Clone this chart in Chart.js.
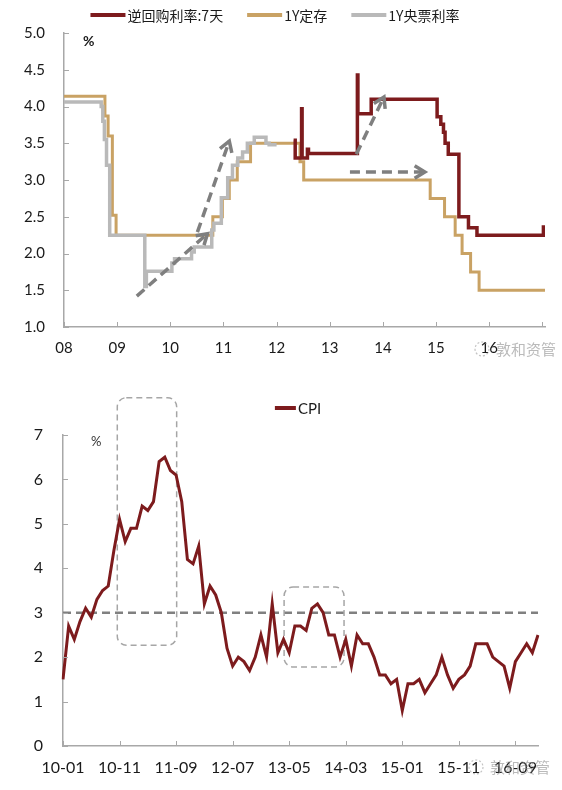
<!DOCTYPE html>
<html>
<head>
<meta charset="utf-8">
<script src="https://cdn.jsdelivr.net/npm/chart.js@4/dist/chart.umd.min.js"></script>
<style>
  html, body { margin: 0; padding: 0; background: #fff; }
  #wrap { position: relative; width: 562px; height: 790px; }
  #rates { position: absolute; left: 0; top: 0; }
  #cpi { position: absolute; left: 0; top: 380px; }
</style>
</head>
<body>
<div id="wrap">
  <canvas id="rates" width="562" height="370"></canvas>
  <canvas id="cpi" width="562" height="410"></canvas>
</div>
<script>
// ---- top chart data (x = decimal year, value holds until next point) ----
const repoX    = [2012.32, 2012.35, 2012.47, 2012.48, 2012.58, 2012.60, 2012.63, 2013.52, 2013.53, 2013.78, 2015.02, 2015.09, 2015.14, 2015.17, 2015.23, 2015.43, 2015.61, 2015.77, 2017.02, 2017.05];
const repoY    = [3.54,    3.30,    3.97,    3.30,    3.42,    3.36,    3.36,    4.43,    3.90,    4.10,    3.86,    3.76,    3.65,    3.50,    3.35,    2.50,    2.35,    2.25,    2.36,    2.36];
const depositX = [2008.00, 2008.77, 2008.83, 2008.91, 2008.98, 2010.80, 2010.98, 2011.11, 2011.26, 2011.51, 2012.44, 2012.51, 2014.89, 2015.16, 2015.36, 2015.49, 2015.65, 2015.81, 2017.05];
const depositY = [4.14,    3.87,    3.60,    2.52,    2.25,    2.50,    2.75,    3.00,    3.25,    3.50,    3.25,    3.00,    2.75,    2.50,    2.25,    2.00,    1.75,    1.50,    1.50];
const billX    = [2008.00, 2008.70, 2008.73, 2008.76, 2008.80, 2008.86, 2009.52, 2009.55, 2010.03, 2010.08, 2010.40, 2010.45, 2010.78, 2010.82, 2010.96, 2011.08, 2011.17, 2011.27, 2011.36, 2011.45, 2011.58, 2011.80, 2011.86, 2012.00];
const billY    = [4.06,    4.00,    3.80,    3.55,    3.20,    2.25,    1.55,    1.76,    1.87,    1.93,    2.02,    2.09,    2.32,    2.41,    2.76,    3.03,    3.20,    3.30,    3.38,    3.50,    3.58,    3.50,    3.48,    3.48];
const yearTicks  = [2008, 2009, 2010, 2011, 2012, 2013, 2014, 2015, 2016, 2017];
const yearLabels = ['08', '09', '10', '11', '12', '13', '14', '15', '16', ''];

// ---- bottom chart data: CPI yoy, 2010-01 .. 2017-01 ----
const cpiValues = [
  1.5, 2.7, 2.4, 2.8, 3.1, 2.9, 3.3, 3.5, 3.6, 4.4, 5.1, 4.6,
  4.9, 4.9, 5.4, 5.3, 5.5, 6.4, 6.5, 6.2, 6.1, 5.5, 4.2, 4.1,
  4.5, 3.2, 3.6, 3.4, 3.0, 2.2, 1.8, 2.0, 1.9, 1.7, 2.0, 2.5,
  2.0, 3.2, 2.1, 2.4, 2.1, 2.7, 2.7, 2.6, 3.1, 3.2, 3.0, 2.5,
  2.5, 2.0, 2.4, 1.8, 2.5, 2.3, 2.3, 2.0, 1.6, 1.6, 1.4, 1.5,
  0.8, 1.4, 1.4, 1.5, 1.2, 1.4, 1.6, 2.0, 1.6, 1.3, 1.5, 1.6,
  1.8, 2.3, 2.3, 2.3, 2.0, 1.9, 1.8, 1.3, 1.9, 2.1, 2.3, 2.1,
  2.5
];
const months = [];
for (let i = 0; i < cpiValues.length; i++) {
  const yy = 10 + Math.floor(i / 12), mm = (i % 12) + 1;
  months.push(yy + '-' + String(mm).padStart(2, '0'));
}
const cpiLine = 3;

// annotations (data coords)
const rateArrows = [
  [2009.37, 1.42, 2010.70, 2.27],
  [2010.51, 2.29, 2011.11, 3.53],
  [2013.50, 3.35, 2014.02, 4.13],
  [2013.38, 3.11, 2014.79, 3.11]
];
const cpiBoxes = [
  [9.6, 2.27, 20.1, 7.84],
  [39.1, 1.78, 49.7, 3.58]
];

const RED = '#7d1b1d', GOLD = '#c9a264', GREY = '#b9b9b9', AXIS = '#a8a8a8', TXT = '#1a1a1a';
const CJK = '"Noto Sans CJK SC", Lato, sans-serif';

function toPts(xs, ys) { return xs.map((x, i) => ({ x: x, y: ys[i] })); }

function drawLegend(ctx, items, cx, cy, font, sw) {
  ctx.save();
  ctx.font = font;
  ctx.textBaseline = 'middle';
  const gap = 24;
  const widths = items.map(it => sw + 2 + ctx.measureText(it.label).width);
  const total = widths.reduce((a, b) => a + b, 0) + gap * (items.length - 1);
  let x = cx - total / 2;
  items.forEach((it, i) => {
    ctx.strokeStyle = it.color; ctx.lineWidth = 4; ctx.lineCap = 'butt';
    ctx.beginPath(); ctx.moveTo(x, cy); ctx.lineTo(x + sw, cy); ctx.stroke();
    ctx.fillStyle = TXT;
    ctx.fillText(it.label, x + sw + 2, cy + 1);
    x += widths[i] + gap;
  });
  ctx.restore();
}

function drawInwardTicks(chart, xVals) {
  const { ctx, chartArea: a, scales: { x, y } } = chart;
  ctx.save();
  ctx.strokeStyle = AXIS; ctx.lineWidth = 1;
  ctx.beginPath();
  xVals.forEach(v => {
    const px = Math.round(x.getPixelForValue(v)) + 0.5;
    ctx.moveTo(px, a.bottom); ctx.lineTo(px, a.bottom - 5);
  });
  y.ticks.forEach(t => {
    const py = Math.round(y.getPixelForValue(t.value)) + 0.5;
    ctx.moveTo(a.left, py); ctx.lineTo(a.left + 5, py);
  });
  ctx.stroke();
  ctx.restore();
}

function drawWatermark(ctx, right, cy) {
  ctx.save();
  ctx.font = '15px ' + CJK;
  ctx.textAlign = 'right';
  ctx.textBaseline = 'middle';
  const w = ctx.measureText('敦和资管').width;
  ctx.fillStyle = 'rgba(140,140,140,0.6)';
  ctx.fillText('敦和资管', right, cy);
  ctx.strokeStyle = 'rgba(170,170,170,0.7)'; ctx.lineWidth = 1.2;
  ctx.setLineDash([2, 2]);
  ctx.beginPath(); ctx.arc(right - w - 14, cy, 7, 0, Math.PI * 2); ctx.stroke();
  ctx.restore();
}

function drawArrow(ctx, x0, y0, x1, y1) {
  ctx.save();
  ctx.strokeStyle = '#7f7f7f'; ctx.lineWidth = 3.5;
  ctx.setLineDash([10, 6]);
  ctx.beginPath(); ctx.moveTo(x0, y0); ctx.lineTo(x1, y1); ctx.stroke();
  ctx.setLineDash([]);
  const ang = Math.atan2(y1 - y0, x1 - x0), L = 12;
  ctx.beginPath();
  ctx.moveTo(x1 - L * Math.cos(ang - 0.55), y1 - L * Math.sin(ang - 0.55));
  ctx.lineTo(x1, y1);
  ctx.lineTo(x1 - L * Math.cos(ang + 0.55), y1 - L * Math.sin(ang + 0.55));
  ctx.stroke();
  ctx.restore();
}

function roundRect(ctx, x, y, w, h, r) {
  ctx.beginPath();
  ctx.moveTo(x + r, y);
  ctx.arcTo(x + w, y, x + w, y + h, r);
  ctx.arcTo(x + w, y + h, x, y + h, r);
  ctx.arcTo(x, y + h, x, y, r);
  ctx.arcTo(x, y, x + w, y, r);
  ctx.closePath();
}

const ratesDecor = {
  id: 'ratesDecor',
  afterDraw(chart) {
    const { ctx, chartArea: a, scales: { x, y } } = chart;
    drawInwardTicks(chart, yearTicks);
    rateArrows.forEach(r => drawArrow(ctx, x.getPixelForValue(r[0]), y.getPixelForValue(r[1]), x.getPixelForValue(r[2]), y.getPixelForValue(r[3])));
    ctx.save();
    ctx.fillStyle = TXT; ctx.font = 'bold 14px Lato, sans-serif';
    ctx.textBaseline = 'middle';
    ctx.fillText('%', a.left + 19, a.top + 8);
    ctx.restore();
    drawLegend(ctx, [
      { label: '逆回购利率:7天', color: RED },
      { label: '1Y定存', color: GOLD },
      { label: '1Y央票利率', color: GREY }
    ], 275, 15, '14px ' + CJK, 35);
    drawWatermark(ctx, 556, 349);
  }
};

const cpiDecor = {
  id: 'cpiDecor',
  beforeDatasetsDraw(chart) {
    const { ctx, chartArea: a, scales: { x, y } } = chart;
    ctx.save();
    ctx.strokeStyle = '#808080'; ctx.lineWidth = 2.5;
    ctx.setLineDash([8, 5]);
    const py = y.getPixelForValue(cpiLine);
    ctx.beginPath(); ctx.moveTo(a.left, py); ctx.lineTo(a.right, py); ctx.stroke();
    ctx.strokeStyle = '#a6a6a6'; ctx.lineWidth = 1.5;
    ctx.setLineDash([6, 4]);
    cpiBoxes.forEach(b => {
      const x0 = x.getPixelForValue(b[0]), x1 = x.getPixelForValue(b[2]);
      const y0 = y.getPixelForValue(b[3]), y1 = y.getPixelForValue(b[1]);
      roundRect(ctx, x0, y0, x1 - x0, y1 - y0, 9);
      ctx.stroke();
    });
    ctx.restore();
  },
  afterDraw(chart) {
    const { ctx, chartArea: a } = chart;
    drawInwardTicks(chart, months.map((m, i) => i).filter(i => i % 10 === 0));
    ctx.save();
    ctx.fillStyle = '#333'; ctx.font = '13px Lato, sans-serif';
    ctx.textBaseline = 'middle';
    ctx.fillText('%', a.left + 28, a.top + 7);
    ctx.restore();
    drawLegend(ctx, [{ label: 'CPI', color: RED }], 298, 28, '15px Lato, sans-serif', 21);
    drawWatermark(ctx, 550, 387);
  }
};

const axisBase = {
  grid: { display: true, drawOnChartArea: false, drawTicks: false },
  border: { display: true, color: AXIS, width: 1.5 }
};

new Chart(document.getElementById('rates'), {
  type: 'line',
  data: {
    datasets: [
      { label: '逆回购利率:7天', data: toPts(repoX, repoY), borderColor: RED, borderWidth: 3.5, stepped: 'before', pointRadius: 0, order: 1 },
      { label: '1Y央票利率', data: toPts(billX, billY), borderColor: GREY, borderWidth: 3.5, stepped: 'before', pointRadius: 0, order: 2 },
      { label: '1Y定存', data: toPts(depositX, depositY), borderColor: GOLD, borderWidth: 3, stepped: 'before', pointRadius: 0, order: 3 }
    ]
  },
  options: {
    responsive: false,
    animation: false,
    layout: { padding: { top: 33, right: 17, left: 0, bottom: 0 } },
    plugins: { legend: { display: false }, tooltip: { enabled: false } },
    scales: {
      x: {
        ...axisBase,
        type: 'linear', min: 2008, max: 2017.05,
        afterFit: s => { s.height = 43; },
        ticks: {
          stepSize: 1, includeBounds: false, padding: 12, maxRotation: 0,
          color: TXT, font: { family: 'Lato', size: 15 },
          callback: v => yearLabels[yearTicks.indexOf(v)] ?? ''
        }
      },
      y: {
        ...axisBase,
        min: 1, max: 5,
        afterFit: s => { s.width = 64; },
        ticks: {
          stepSize: 0.5, padding: 19,
          color: TXT, font: { family: 'Lato', size: 15 },
          callback: v => v.toFixed(1)
        }
      }
    }
  },
  plugins: [ratesDecor]
});

new Chart(document.getElementById('cpi'), {
  type: 'line',
  data: {
    labels: months,
    datasets: [
      { label: 'CPI', data: cpiValues, borderColor: RED, borderWidth: 3, pointRadius: 0, tension: 0 }
    ]
  },
  options: {
    responsive: false,
    animation: false,
    layout: { padding: { top: 55, right: 24, left: 0, bottom: 0 } },
    plugins: { legend: { display: false }, tooltip: { enabled: false } },
    scales: {
      x: {
        ...axisBase,
        afterFit: s => { s.height = 44; },
        ticks: {
          autoSkip: false, maxRotation: 0, minRotation: 0, padding: 12,
          color: TXT, font: { family: 'Lato', size: 16 },
          callback: (v, i) => (i % 10 === 0 ? months[i] : '')
        }
      },
      y: {
        ...axisBase,
        min: 0, max: 7,
        afterFit: s => { s.width = 63; },
        ticks: {
          stepSize: 1, padding: 20,
          color: TXT, font: { family: 'Lato', size: 16 }
        }
      }
    }
  },
  plugins: [cpiDecor]
});
</script>
</body>
</html>
